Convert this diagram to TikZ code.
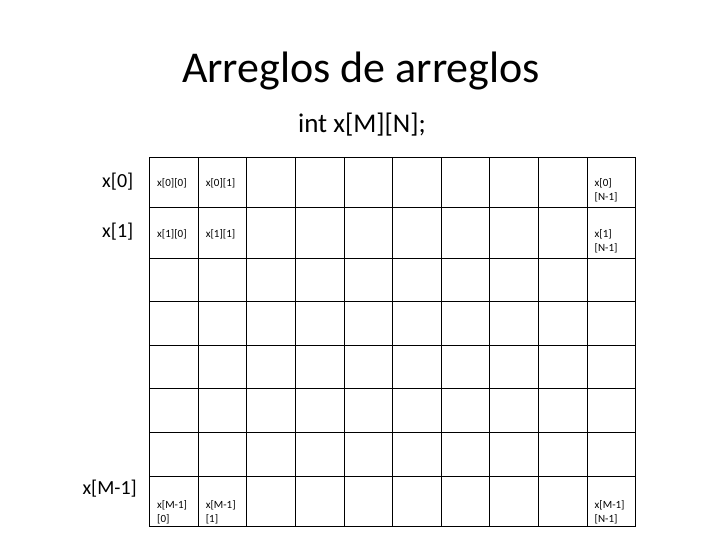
\documentclass[tikz,border=0pt]{standalone}
\usepackage{fontspec}
\setmainfont{Carlito}
\begin{document}
\begin{tikzpicture}[x=1pt,y=-1pt,
  gridline/.style={draw=black,line width=0.9pt},
  titletext/.style={font=\fontsize{44}{53}\selectfont,anchor=base,inner sep=0pt},
  subtext/.style={font=\fontsize{27}{32}\selectfont,anchor=base,inner sep=0pt},
  rowlabel/.style={font=\fontsize{20}{24}\selectfont,anchor=base east,inner sep=0pt},
  celltext/.style={font=\fontsize{11}{14}\selectfont,anchor=base west,inner sep=0pt,align=left}]
\useasboundingbox (0,0) rectangle (720,540);
\fill[white] (0,0) rectangle (720,540);
% title
\node[titletext] (title) at (361,82.7) {Arreglos de arreglos};
\node[subtext] (decl) at (362,133) {int x[M][N];};
% grid
\foreach \yy in {157.3,207.7,258,301.7,345.7,388.7,432.5,476.7,526.7}
  \draw[gridline] (149.7,\yy) -- (635.7,\yy);
\foreach \i in {0,...,10}
  \draw[gridline] ({149.7+48.6*\i},157.3) -- ({149.7+48.6*\i},526.7);
% row labels
\node[rowlabel] (r0) at (133.5,187.5) {x[0]};
\node[rowlabel] (r1) at (133.5,237.5) {x[1]};
\node[rowlabel] (rM) at (137,494) {x[M-1]};
% cell texts (two-line nodes: base is the last line)
\node[celltext] (c00) at (157,187) {x[0][0]};
\node[celltext] (c01) at (205.6,187) {x[0][1]};
\node[celltext] (c0N) at (594.5,201) {x[0]\\{}[N-1]};
\node[celltext] (c10) at (157,237.3) {x[1][0]};
\node[celltext] (c11) at (205.6,237.3) {x[1][1]};
\node[celltext] (c1N) at (594.5,251.4) {x[1]\\{}[N-1]};
\node[celltext] (cM0) at (157,522) {x[M-1]\\{}[0]};
\node[celltext] (cM1) at (205.6,522) {x[M-1]\\{}[1]};
\node[celltext] (cMN) at (594.5,522) {x[M-1]\\{}[N-1]};
\end{tikzpicture}
\end{document}
